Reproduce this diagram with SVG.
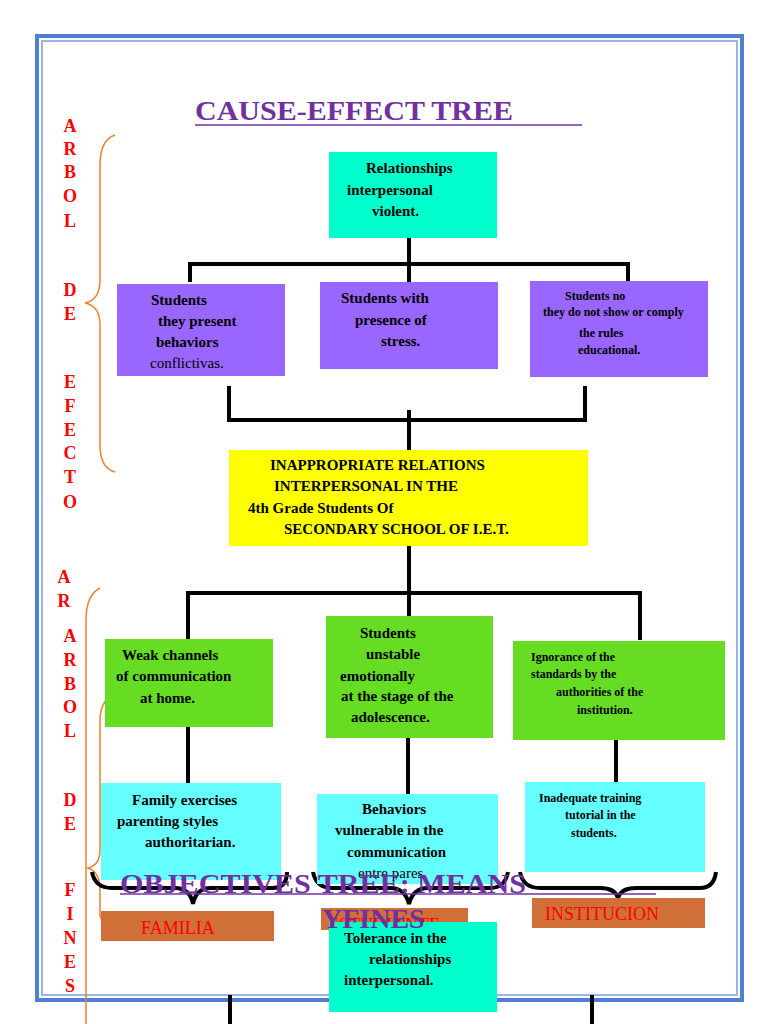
<svg xmlns="http://www.w3.org/2000/svg" width="768" height="1024" viewBox="0 0 768 1024">
<style>
.b{font-family:"Liberation Serif",serif;font-weight:bold;font-size:15px;fill:#000}
.n{font-family:"Liberation Serif",serif;font-size:15px;fill:#000}
.s{font-family:"Liberation Serif",serif;font-weight:bold;font-size:12px;fill:#000}
.l{font-family:"Liberation Serif",serif;font-weight:bold;font-size:18px;fill:#f00;text-anchor:middle}
.t{font-family:"Liberation Serif",serif;font-weight:bold;font-size:28px;fill:#7030a0}
.r{font-family:"Liberation Serif",serif;font-size:18px;fill:#f00}
.k{stroke:#000;stroke-width:4;fill:none}
.o{stroke:#f08030;stroke-width:1.5;fill:none}
</style>
<rect width="768" height="1024" fill="#fff"/>
<rect x="37" y="36" width="705" height="964" fill="none" stroke="#4f7fd0" stroke-width="4"/>
<rect x="42" y="41" width="695" height="954" fill="none" stroke="#9ab4e4" stroke-width="2"/>
<text class="t" x="195" y="120" textLength="318" lengthAdjust="spacingAndGlyphs">CAUSE-EFFECT TREE</text>
<line x1="195" y1="125" x2="582" y2="125" stroke="#7030a0" stroke-width="1.5"/>
<g id="labels">
<text class="l" x="70" y="132">A</text><text class="l" x="70" y="155">R</text><text class="l" x="70" y="178">B</text><text class="l" x="70" y="202">O</text><text class="l" x="70" y="227">L</text>
<text class="l" x="70" y="296">D</text><text class="l" x="70" y="320">E</text>
<text class="l" x="70" y="388">E</text><text class="l" x="70" y="412">F</text><text class="l" x="70" y="436">E</text><text class="l" x="70" y="459">C</text><text class="l" x="70" y="483">T</text><text class="l" x="70" y="508">O</text>
<text class="l" x="64" y="583">A</text><text class="l" x="64" y="607">R</text>
<text class="l" x="70" y="642">A</text><text class="l" x="70" y="666">R</text><text class="l" x="70" y="690">B</text><text class="l" x="70" y="713">O</text><text class="l" x="70" y="737">L</text>
<text class="l" x="70" y="806">D</text><text class="l" x="70" y="830">E</text>
<text class="l" x="70" y="896">F</text><text class="l" x="70" y="920">I</text><text class="l" x="70" y="944">N</text><text class="l" x="70" y="968">E</text><text class="l" x="70" y="992">S</text>
</g>
<path class="o" d="M115,135 Q100,140 100,165 L100,280 Q100,300 85,303 Q100,306 100,325 L100,445 Q100,468 115,472"/>
<path class="o" d="M100,588 Q86,595 86,620 L86,1024"/>
<path class="o" d="M118,690 Q100,700 100,720 L100,850 Q100,865 88,868 Q100,872 100,890 L100,915 Q102,922 106,925"/>
<g id="connectors">
<path class="k" d="M409,238 V264 M190,282 V264 H628 V282 M409,264 V282"/>
<path class="k" d="M229,386 V420 H585 V386 M409,410 V450"/>
<path class="k" d="M409,545 V593 M188,640 V593 H640 V640 M409,593 V617"/>
<path class="k" d="M188,727 V783 M408,738 V794 M616,740 V782"/>
<path class="k" d="M230,995 V1024 M592,995 V1024"/>
<path class="k" stroke-width="3" d="M92,872 Q95,888 112,888 H175 Q190,888 193,904 Q196,888 211,888 H272 Q287,888 287,872"/>
<path class="k" stroke-width="3" d="M313,872 Q316,888 332,888 H390 Q405,888 409,904 Q413,888 428,888 H490 Q505,888 508,872"/>
<path class="k" stroke-width="3" d="M520,872 Q523,888 540,888 H600 Q615,888 618,898 Q621,888 636,888 H700 Q714,888 716,872"/>
</g>
<g id="n1"><rect x="329" y="152" width="168" height="86" fill="#00ffcc"/>
<text class="b" x="366" y="173">Relationships</text><text class="b" x="347" y="195">interpersonal</text><text class="b" x="372" y="216">violent.</text></g>
<g id="n2"><rect x="117" y="284" width="168" height="92" fill="#9966ff"/>
<text class="b" x="151" y="305">Students</text><text class="b" x="158" y="326">they present</text><text class="b" x="156" y="347">behaviors</text><text class="n" x="150" y="368">conflictivas.</text></g>
<g id="n3"><rect x="320" y="282" width="178" height="87" fill="#9966ff"/>
<text class="b" x="341" y="303">Students with</text><text class="b" x="355" y="325">presence of</text><text class="b" x="381" y="346">stress.</text></g>
<g id="n4"><rect x="530" y="281" width="178" height="96" fill="#9966ff"/>
<text class="s" x="565" y="300">Students no</text><text class="s" x="543" y="316" font-size="11">they do not show or comply</text><text class="s" x="579" y="337">the rules</text><text class="s" x="578" y="354">educational.</text></g>
<g id="n5"><rect x="229" y="450" width="359" height="96" fill="#ffff00"/>
<text class="b" x="270" y="470">INAPPROPRIATE RELATIONS</text><text class="b" x="274" y="491">INTERPERSONAL IN THE</text><text class="b" x="248" y="513">4th Grade Students Of</text><text class="b" x="284" y="534">SECONDARY SCHOOL OF I.E.T.</text></g>
<g id="n6"><rect x="105" y="639" width="168" height="88" fill="#66dd22"/>
<text class="b" x="122" y="660">Weak channels</text><text class="b" x="116" y="681">of communication</text><text class="b" x="140" y="703">at home.</text></g>
<g id="n7"><rect x="326" y="616" width="167" height="122" fill="#66dd22"/>
<text class="b" x="360" y="638">Students</text><text class="b" x="366" y="659">unstable</text><text class="b" x="340" y="681">emotionally</text><text class="b" x="341" y="701">at the stage of the</text><text class="b" x="351" y="722">adolescence.</text></g>
<g id="n8"><rect x="513" y="641" width="212" height="99" fill="#66dd22"/>
<text class="s" x="531" y="661">Ignorance of the</text><text class="s" x="531" y="678">standards by the</text><text class="s" x="556" y="696">authorities of the</text><text class="s" x="577" y="714">institution.</text></g>
<g id="n9"><rect x="101" y="783" width="180" height="97" fill="#66ffff"/>
<text class="b" x="132" y="805">Family exercises</text><text class="b" x="117" y="826">parenting styles</text><text class="b" x="145" y="847">authoritarian.</text></g>
<g id="n10"><rect x="317" y="794" width="181" height="90" fill="#66ffff"/>
<text class="b" x="362" y="814">Behaviors</text><text class="b" x="335" y="835">vulnerable in the</text><text class="b" x="347" y="857">communication</text><text class="n" x="358" y="878" font-size="13">entre pares.</text></g>
<g id="n11"><rect x="525" y="782" width="180" height="90" fill="#66ffff"/>
<text class="s" x="539" y="802">Inadequate training</text><text class="s" x="565" y="819">tutorial in the</text><text class="s" x="571" y="837">students.</text></g>
<g id="c1"><rect x="101" y="911" width="173" height="30" fill="#d07038"/><text class="r" x="141" y="934">FAMILIA</text></g>
<g id="c2"><rect x="321" y="908" width="147" height="22" fill="#d07038"/><text class="r" x="328" y="931">ESTUDIANTE</text></g>
<g id="c3"><rect x="532" y="898" width="173" height="30" fill="#d07038"/><text class="r" x="545" y="920">INSTITUCION</text></g>
<g id="n12"><rect x="329" y="922" width="168" height="90" fill="#00ffcc"/>
<text class="b" x="344" y="943">Tolerance in the</text><text class="b" x="369" y="964">relationships</text><text class="b" x="344" y="985">interpersonal.</text></g>
<text class="t" x="120" y="893" textLength="406" lengthAdjust="spacingAndGlyphs">OBJECTIVES TREE: MEANS</text>
<line x1="120" y1="894" x2="656" y2="894" stroke="#7030a0" stroke-width="1.5"/>
<text class="t" x="322" y="928">YFINES</text>
</svg>
